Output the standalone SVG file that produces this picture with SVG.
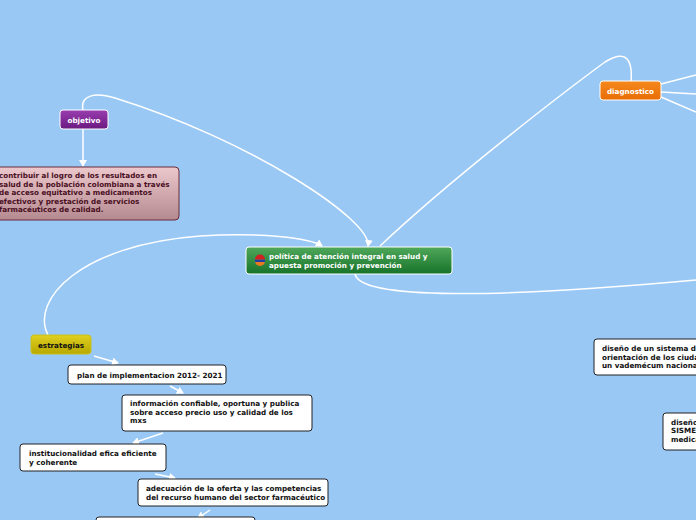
<svg xmlns="http://www.w3.org/2000/svg" width="696" height="520" viewBox="0 0 696 520">
<style>
text{font-family:"DejaVu Sans","Liberation Sans",sans-serif;font-weight:bold;font-size:7.2px}
.c{fill:none;stroke:#fff;stroke-width:1.5}
.w{fill:#fff;stroke:#222;stroke-width:1}
.wt{fill:#111}
.lt{fill:#fff}
</style>
<defs>
<marker id="a" markerWidth="8" markerHeight="8" refX="6" refY="4" orient="auto" markerUnits="userSpaceOnUse"><path d="M0,0 L7,4 L0,8 z" fill="#fff"/></marker>
<linearGradient id="g" x1="0" y1="0" x2="0" y2="1"><stop offset="0" stop-color="#4fa85a"/><stop offset="1" stop-color="#17732a"/></linearGradient>
<linearGradient id="p" x1="0" y1="0" x2="0" y2="1"><stop offset="0" stop-color="#9a3db0"/><stop offset="1" stop-color="#6a1a80"/></linearGradient>
<linearGradient id="o" x1="0" y1="0" x2="0" y2="1"><stop offset="0" stop-color="#f5891e"/><stop offset="1" stop-color="#e86d05"/></linearGradient>
<linearGradient id="y" x1="0" y1="0" x2="0" y2="1"><stop offset="0" stop-color="#e0d020"/><stop offset="1" stop-color="#b8a800"/></linearGradient>
<linearGradient id="k" x1="0" y1="0" x2="0" y2="1"><stop offset="0" stop-color="#ecc8cc"/><stop offset="1" stop-color="#b48a90"/></linearGradient>
</defs>
<rect width="696" height="520" fill="#99c8f5"/>
<g id="connectors">
<path class="c" d="M83,110 C80,95 95,92 115,98 C250,140 372,220 368,246" marker-end="url(#a)"/>
<path class="c" d="M83,129 L83,166" marker-end="url(#a)"/>
<path class="c" d="M380,246 C450,180 560,95 605,62 C632,45 632,70 631,81"/>
<path class="c" d="M48,335 C30,300 80,245 200,236 C260,232 310,238 322,246" marker-end="url(#a)"/>
<path class="c" d="M355,274 C360,300 500,298 696,280"/>
<path class="c" d="M661,84 L696,75 M661,92 L696,94 M661,97 L696,112"/>
<path class="c" d="M94,356 L118,363" marker-end="url(#a)"/>
<path class="c" d="M170,386 L183,393" marker-end="url(#a)"/>
<path class="c" d="M163,433 L133,443" marker-end="url(#a)"/>
<path class="c" d="M155,474 L175,478" marker-end="url(#a)"/>
<path class="c" d="M210,510 L198,518" marker-end="url(#a)"/>
</g>
<g id="objetivo"><rect x="60" y="110" width="48" height="19" rx="3" fill="url(#p)" stroke="#fff"/><text class="lt" x="84" y="122.5" text-anchor="middle">objetivo</text></g>
<g id="contribuir"><rect x="-5" y="167" width="184" height="53" rx="4" fill="url(#k)" stroke="#6a2a3a"/>
<text fill="#4a0f1f"><tspan x="-1" y="178">contribuir al logro de los resultados  en</tspan><tspan x="-1" y="186.5">salud de la población  colombiana a través</tspan><tspan x="-1" y="195">de acceso equitativo a medicamentos</tspan><tspan x="-1" y="203.5">efectivos y prestación de  servicios</tspan><tspan x="-1" y="212">farmacéuticos de calidad.</tspan></text></g>
<g id="central"><rect x="246" y="247" width="206" height="27" rx="3" fill="url(#g)" stroke="#fff"/>
<circle cx="260" cy="261" r="5" fill="#e8791f"/><path d="M255,259.5 A5,5 0 0 1 265,259.5 Z" fill="#d02020"/><rect x="255" y="259.5" width="10" height="2.5" fill="#2040a0"/>
<text class="lt"><tspan x="269" y="259">política  de atención integral en salud y</tspan><tspan x="269" y="267.5">apuesta promoción y prevención</tspan></text></g>
<g id="diagnostico"><rect x="600" y="81" width="61" height="19" rx="3" fill="url(#o)" stroke="#fff"/><text class="lt" x="630.5" y="93.5" text-anchor="middle">diagnostico</text></g>
<g id="estrategias"><rect x="31" y="335" width="60" height="19" rx="3" fill="url(#y)" stroke="#c8c020"/><text class="wt" x="61" y="347.5" text-anchor="middle">estrategias</text></g>
<g id="plan"><rect class="w" x="68" y="365" width="158" height="19" rx="3"/><text class="wt" x="77" y="377.5">plan de implementacion 2012- 2021</text></g>
<g id="informacion"><rect class="w" x="122" y="395" width="190" height="36" rx="3"/><text class="wt"><tspan x="130" y="406">información  confiable, oportuna y publica</tspan><tspan x="130" y="414.5">sobre acceso  precio uso y calidad de los</tspan><tspan x="130" y="423">mxs</tspan></text></g>
<g id="institucionalidad"><rect class="w" x="20" y="444" width="146" height="27" rx="3"/><text class="wt"><tspan x="29" y="456">institucionalidad  efica  eficiente</tspan><tspan x="29" y="464.5">y  coherente</tspan></text></g>
<g id="adecuacion"><rect class="w" x="138" y="479" width="190" height="27" rx="3"/><text class="wt"><tspan x="146" y="491">adecuación de la oferta y las competencias</tspan><tspan x="146" y="499.5">del recurso humano del sector farmacéutico</tspan></text></g>
<g id="bottom"><rect class="w" x="96" y="517" width="159" height="20" rx="3"/></g>
<g id="vademecum"><rect class="w" x="594" y="339" width="110" height="36" rx="3"/><text class="wt"><tspan x="602" y="351">diseño de un sistema de</tspan><tspan x="602" y="359.5">orientación de los ciudadanos</tspan><tspan x="602" y="368">un vademécum  nacional</tspan></text></g>
<g id="sismed"><rect class="w" x="663" y="413" width="40" height="37" rx="3"/><text class="wt"><tspan x="671" y="424.5">diseño</tspan><tspan x="671" y="433">SISMED</tspan><tspan x="671" y="441.5">medica</tspan></text></g>
</svg>
